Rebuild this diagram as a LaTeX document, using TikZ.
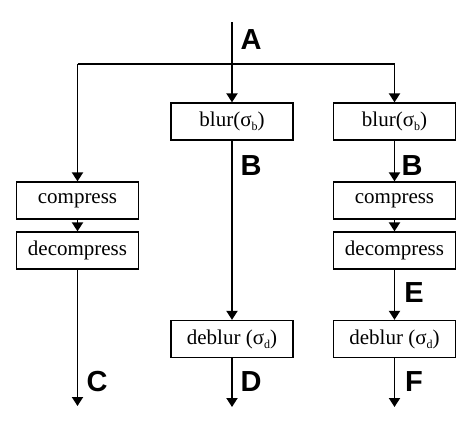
\documentclass[tikz,border=0pt]{standalone}
\usepackage{fontspec}
\setmainfont{Liberation Serif}
\newfontfamily\lblfont{Liberation Sans}
\usetikzlibrary{arrows.meta}
\newcommand{\lowsub}[1]{\raisebox{-0.45ex}{\fontsize{12}{12}\selectfont #1}}
\begin{document}
\begin{tikzpicture}[x=1pt,y=1pt,
  proc/.style={draw, line width=1.3pt, minimum width=122pt, minimum height=37pt, inner sep=0pt,
    font=\fontsize{21}{23}\selectfont},
  flow/.style={line width=1.9pt, -{Triangle[length=9pt,width=11pt]}},
  plain/.style={line width=1.9pt},
  lbl/.style={font=\lblfont\bfseries\fontsize{29}{31}\selectfont, inner sep=0pt}]
\useasboundingbox[fill=white] (0,0) rectangle (474,-432);
% nodes
\node[proc] (blurM) at (232,-121.5) {blur(σ\lowsub{b})};
\node[proc] (blurR) at (394.5,-121.5) {blur(σ\lowsub{b})};
\node[proc] (compL) at (77.5,-200.5) {compress};
\node[proc] (decL) at (77.5,-250.5) {decompress};
\node[proc] (compR) at (394.5,-200.5) {compress};
\node[proc] (decR) at (394.5,-250.5) {decompress};
\node[proc] (deblurM) at (232,-339) {deblur (σ\lowsub{d})};
\node[proc] (deblurR) at (394.5,-339) {deblur (σ\lowsub{d})};
% coordinates
\coordinate (top) at (232,-22);
\coordinate (jl) at (77.5,-64);
\coordinate (jr) at (394.5,-64);
\coordinate (endL) at (77.5,-406);
\coordinate (endM) at (232,-407);
\coordinate (endR) at (394.5,-407);
% connectors
\draw[flow] (top) -- (blurM);
\draw[plain] (jl) -- (jr);
\draw[flow] (jl) -- (compL);
\draw[flow] (jr) -- (blurR);
\draw[flow] (compL) -- (decL);
\draw[flow] (decL) -- (endL);
\draw[flow] (blurM) -- (deblurM);
\draw[flow] (deblurM) -- (endM);
\draw[flow] (blurR) -- (compR);
\draw[flow] (compR) -- (decR);
\draw[flow] (decR) -- (deblurR);
\draw[flow] (deblurR) -- (endR);
% labels
\node[lbl] (lA) at (251,-40) {A};
\node[lbl] (lB1) at (251,-166) {B};
\node[lbl] (lB2) at (412,-166) {B};
\node[lbl] (lC) at (97,-382) {C};
\node[lbl] (lD) at (251,-382) {D};
\node[lbl] (lE) at (414,-293) {E};
\node[lbl] (lF) at (414,-382) {F};
\end{tikzpicture}
\end{document}
